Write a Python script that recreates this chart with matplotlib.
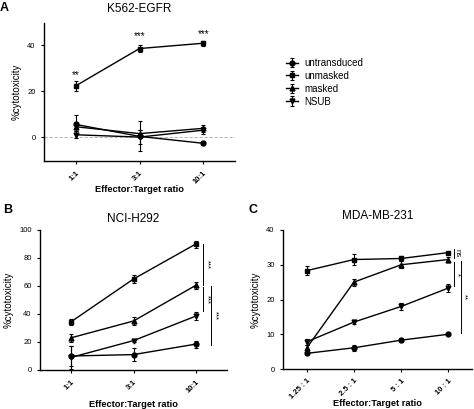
import matplotlib.pyplot as plt

plt.rcParams['font.family'] = ['Liberation Sans', 'DejaVu Sans']

W, H = 474, 409

# ── data ─────────────────────────────────────────────────────────────────────
series = ['untransduced', 'unmasked', 'masked', 'NSUB']
markers = {'untransduced': 'o', 'unmasked': 's', 'masked': '^', 'NSUB': 'v'}

a_ticks = ['1:1', '3:1', '10:1']
a_mean = {
    'untransduced': [5.5, 0.3, -2.7],
    'unmasked': [22.3, 38.5, 40.8],
    'masked': [4.5, 1.5, 3.8],
    'NSUB': [1.0, 0.0, 3.0],
}
a_err = {
    'untransduced': [4.0, 6.5, 0.8],
    'unmasked': [2.2, 1.5, 1.0],
    'masked': [2.0, 1.5, 1.5],
    'NSUB': [1.5, 3.0, 1.5],
}
a_stars = ['**', '***', '***']
a_star_y = [27.0, 44.0, 45.0]

b_ticks = ['1:1', '3:1', '10:1']
b_mean = {
    'untransduced': [10.0, 11.0, 18.5],
    'unmasked': [34.5, 65.0, 90.0],
    'masked': [23.0, 35.0, 60.5],
    'NSUB': [9.0, 21.0, 38.5],
}
b_err = {
    'untransduced': [7.0, 4.5, 2.5],
    'unmasked': [2.0, 3.0, 2.5],
    'masked': [3.0, 3.0, 2.5],
    'NSUB': [8.0, 1.0, 3.0],
}
# significance bars: (x offset, y0, y1, label)
b_sig = [(0.11, 90, 61, '***'), (0.11, 59, 42, '***'), (0.24, 60, 18, '***')]

c_ticks = ['1.25 : 1', '2.5 : 1', '5 : 1', '10 : 1']
c_mean = {
    'untransduced': [4.5, 6.1, 8.3, 10.0],
    'unmasked': [28.3, 31.5, 31.8, 33.5],
    'masked': [6.0, 25.0, 30.0, 31.5],
    'NSUB': [7.8, 13.5, 18.0, 23.3],
}
c_err = {
    'untransduced': [0.3, 0.8, 0.5, 0.2],
    'unmasked': [1.2, 1.6, 0.8, 0.3],
    'masked': [1.0, 1.0, 1.0, 0.8],
    'NSUB': [0.8, 0.5, 1.0, 1.2],
}
c_sig = [(0.11, 34.5, 32.0, 'ns'), (0.11, 30.8, 23.8, '*'), (0.26, 31.0, 10.4, '**')]


def ax_box(left, right, top, bottom):
    return [left / W, 1 - bottom / H, (right - left) / W, (bottom - top) / H]


def panel(ax, ticks, mean, err, xlabelpad):
    x = list(range(len(ticks)))
    for s in series:
        ax.errorbar(x, mean[s], yerr=err[s], color='black', marker=markers[s],
                    markersize=3.5, lw=1.0, elinewidth=0.8, capsize=1.5,
                    capthick=0.8, label=s)
    ax.set_xticks(x)
    ax.set_xticklabels(ticks, rotation=45, fontsize=5.5, fontweight='bold',
                       ha='right', rotation_mode='anchor')
    ax.set_xlim(-0.5, len(ticks) - 0.5)
    ax.spines['top'].set_visible(False)
    ax.spines['right'].set_visible(False)
    for sp in ('left', 'bottom'):
        ax.spines[sp].set_linewidth(1.0)
    ax.tick_params(labelsize=5.5, width=0.8, length=2.5)
    ax.set_ylabel('%cytotoxicity', fontsize=7)
    ax.set_xlabel('Effector:Target ratio', fontsize=6.7, fontweight='bold',
                  labelpad=xlabelpad)


def sig_bars(ax, n, sig):
    for dx, y0, y1, lab in sig:
        xx = n - 1 + dx
        ax.plot([xx, xx], [y0, y1], color='black', lw=0.7, clip_on=False)
        ax.text(xx + 0.07, (y0 + y1) / 2, lab, rotation=-90, fontsize=5.5,
                ha='center', va='center')


fig = plt.figure(figsize=(W / 100, H / 100), dpi=100)

# ── A ────────────────────────────────────────────────────────────────────────
axA = fig.add_axes(ax_box(44, 235, 23, 161))
panel(axA, a_ticks, a_mean, a_err, 0)
axA.axhline(0, color='#aaaaaa', lw=0.6, ls=(0, (4, 2)), zorder=0)
axA.set_ylim(-10.4, 49.6)
axA.set_yticks([0, 20, 40])
for i, (st, yy) in enumerate(zip(a_stars, a_star_y)):
    axA.text(i, yy, st, ha='center', va='center', fontsize=7)
axA.set_title('K562-EGFR', fontsize=8.5, pad=8)
axA.legend(loc='upper left', bbox_to_anchor=(1.22, 0.81), frameon=False,
           fontsize=7, handlelength=1.3, handletextpad=0.6, labelspacing=0.3)
fig.text(0.0, 1 - 8 / H, 'A', fontsize=9, fontweight='bold', va='center')

# ── B ────────────────────────────────────────────────────────────────────────
axB = fig.add_axes(ax_box(40, 227, 230, 370))
panel(axB, b_ticks, b_mean, b_err, 4)
axB.set_ylim(0, 100)
axB.set_yticks([0, 20, 40, 60, 80, 100])
sig_bars(axB, len(b_ticks), b_sig)
axB.set_title('NCI-H292', fontsize=8.5, pad=6)
fig.text(3 / W, 1 - 210 / H, 'B', fontsize=9, fontweight='bold', va='center')

# ── C ────────────────────────────────────────────────────────────────────────
axC = fig.add_axes(ax_box(283, 472, 230, 369))
panel(axC, c_ticks, c_mean, c_err, -1)
axC.set_ylim(0, 40)
axC.set_yticks([0, 10, 20, 30, 40])
sig_bars(axC, len(c_ticks), c_sig)
axC.set_title('MDA-MB-231', fontsize=8.5, pad=8)
fig.text(248 / W, 1 - 210 / H, 'C', fontsize=9, fontweight='bold', va='center')

plt.savefig('out.png', dpi=100)
